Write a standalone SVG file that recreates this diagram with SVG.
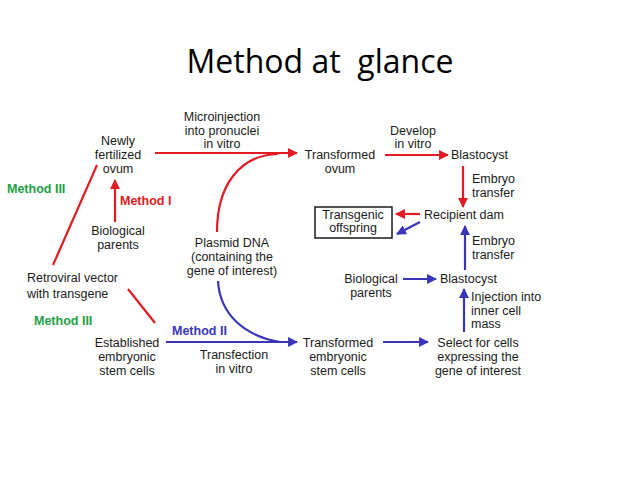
<svg xmlns="http://www.w3.org/2000/svg" width="638" height="478" viewBox="0 0 638 478">
<style>
text{font-family:"Liberation Sans",Arial,sans-serif;font-size:12.5px;fill:#1a1a1a}
.c{text-anchor:middle}
.b{font-weight:bold}
.r{stroke:#e01b24;stroke-width:2.2;fill:none}
.u{stroke:#3a35b8;stroke-width:2.2;fill:none}
</style>
<defs>
<marker id="ar" viewBox="0 0 10 10" refX="9" refY="5" markerWidth="4.5" markerHeight="4.5" orient="auto"><path d="M0,0L10,5L0,10z" fill="#e01b24"/></marker>
<marker id="ab" viewBox="0 0 10 10" refX="9" refY="5" markerWidth="4.5" markerHeight="4.5" orient="auto"><path d="M0,0L10,5L0,10z" fill="#3a35b8"/></marker>
</defs>
<rect width="638" height="478" fill="#fff"/>
<text x="320" y="73" class="c" xml:space="preserve" style="font-family:'Open Sans','Liberation Sans',sans-serif;font-size:32px;fill:#000;white-space:pre">Method at  glance</text>
<g id="connectors">
<path class="r" d="M155,153H297" marker-end="url(#ar)"/>
<path class="r" d="M217,232C217,185 240,155 278,154"/>
<path class="r" d="M385,155H448" marker-end="url(#ar)"/>
<path class="r" d="M463,166V207" marker-end="url(#ar)"/>
<path class="r" d="M420,214H396" marker-end="url(#ar)"/>
<path class="u" d="M420,222L397,234" marker-end="url(#ab)"/>
<path class="u" d="M465,270V226" marker-end="url(#ab)"/>
<path class="u" d="M403,279H436" marker-end="url(#ab)"/>
<path class="u" d="M464,332V289" marker-end="url(#ab)"/>
<path class="u" d="M383,342H428" marker-end="url(#ab)"/>
<path class="u" d="M166,342H297" marker-end="url(#ab)"/>
<path class="u" d="M218,281C220,315 245,336 280,342"/>
<path class="r" d="M115,222V180" marker-end="url(#ar)"/>
<path class="r" d="M53,265L97,165"/>
<path class="r" d="M128,289L155,323"/>
</g>
<g id="ovum"><text class="c" x="118" y="145">Newly</text><text class="c" x="118" y="159">fertilized</text><text class="c" x="118" y="173">ovum</text></g>
<g id="microinj"><text class="c" x="222" y="121">Microinjection</text><text class="c" x="222" y="135">into pronuclei</text><text class="c" x="222" y="148">in vitro</text></g>
<g id="tovum"><text class="c" x="340" y="159">Transformed</text><text class="c" x="340" y="173">ovum</text></g>
<g id="develop"><text class="c" x="413" y="135">Develop</text><text class="c" x="413" y="148">in vitro</text></g>
<g id="blast1"><text x="451" y="159">Blastocyst</text></g>
<g id="et1"><text x="472" y="183">Embryo</text><text x="472" y="197">transfer</text></g>
<g id="dam"><text x="424" y="219">Recipient dam</text></g>
<g id="offspring"><rect x="315" y="207" width="77" height="31" fill="none" stroke="#1a1a1a" stroke-width="1.5"/><text class="c" x="353" y="219">Transgenic</text><text class="c" x="353" y="232">offspring</text></g>
<g id="et2"><text x="472" y="245">Embryo</text><text x="472" y="259">transfer</text></g>
<g id="bp2"><text class="c" x="371" y="283">Biological</text><text class="c" x="371" y="297">parents</text></g>
<g id="blast2"><text x="440" y="283">Blastocyst</text></g>
<g id="inj"><text x="471" y="301">Injection into</text><text x="471" y="315">inner cell</text><text x="471" y="328">mass</text></g>
<g id="tes"><text class="c" x="338" y="347">Transformed</text><text class="c" x="338" y="361">embryonic</text><text class="c" x="338" y="375">stem cells</text></g>
<g id="select"><text class="c" x="478" y="347">Select for cells</text><text class="c" x="478" y="361">expressing the</text><text class="c" x="478" y="375">gene of interest</text></g>
<g id="es"><text class="c" x="127" y="347">Established</text><text class="c" x="127" y="361">embryonic</text><text class="c" x="127" y="375">stem cells</text></g>
<g id="m2"><text x="172" y="335" class="b" style="fill:#3a35b8">Method II</text></g>
<g id="transf"><text class="c" x="234" y="359">Transfection</text><text class="c" x="234" y="373">in vitro</text></g>
<g id="plasmid"><text class="c" x="232" y="247">Plasmid DNA</text><text class="c" x="232" y="261">(containing the</text><text class="c" x="232" y="275">gene of interest)</text></g>
<g id="m3a"><text x="7" y="193" class="b" style="fill:#22a045">Method III</text></g>
<g id="m3b"><text x="34" y="325" class="b" style="fill:#22a045">Method III</text></g>
<g id="m1"><text x="120" y="205" class="b" style="fill:#e01b24">Method I</text></g>
<g id="bp1"><text class="c" x="118" y="235">Biological</text><text class="c" x="118" y="249">parents</text></g>
<g id="retro"><text x="27" y="282">Retroviral vector</text><text x="27" y="298">with transgene</text></g>
</svg>
